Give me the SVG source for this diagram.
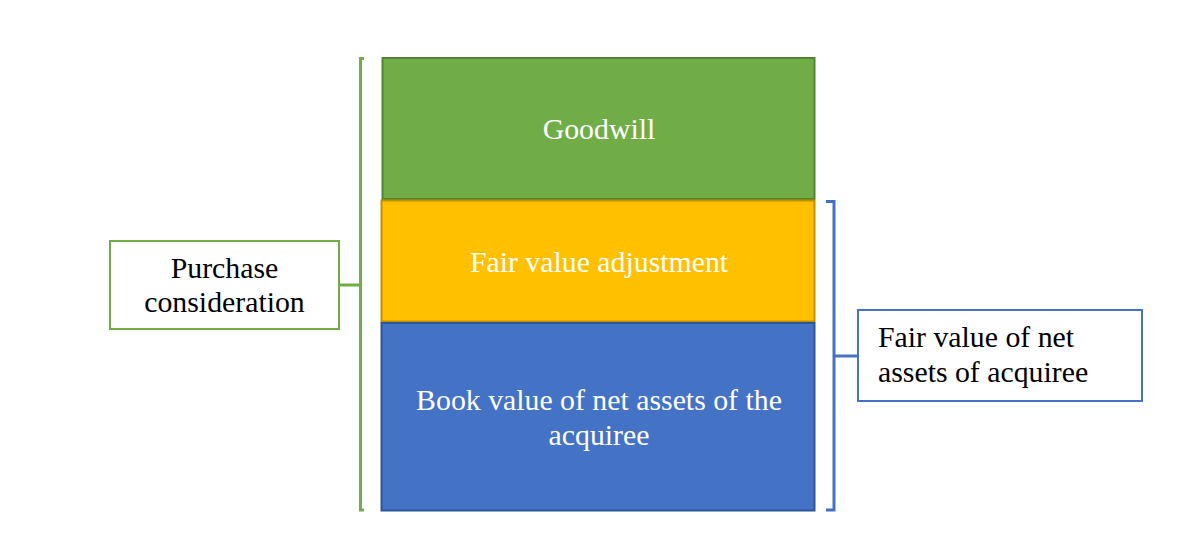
<svg xmlns="http://www.w3.org/2000/svg" width="1200" height="560" viewBox="0 0 1200 560">
<style>
.t{font-family:"Liberation Serif","Times New Roman",serif;font-size:29.8px}
.w{fill:#fff}
.k{fill:#000}
.bg{fill:none;stroke:#70AD47;stroke-width:3}
.bb{fill:none;stroke:#4472C4;stroke-width:3}
</style>
<rect width="1200" height="560" fill="#fff"/>
<g id="goodwill">
<rect x="382.5" y="58" width="432" height="141" fill="#70AD47" stroke="#548235" stroke-width="2"/>
<text class="t w" x="599" y="139" text-anchor="middle">Goodwill</text>
</g>
<g id="fair-value-adjustment">
<rect x="381.5" y="200.5" width="433" height="121" fill="#FFC000" stroke="#BF9000" stroke-width="2"/>
<text class="t w" x="599" y="272" text-anchor="middle">Fair value adjustment</text>
</g>
<g id="book-value">
<rect x="381.5" y="323" width="433" height="187.5" fill="#4472C4" stroke="#2F5597" stroke-width="2"/>
<text class="t w" x="599" y="410" text-anchor="middle">Book value of net assets of the</text>
<text class="t w" x="599" y="445" text-anchor="middle">acquiree</text>
</g>
<g id="purchase-consideration">
<rect x="110" y="241" width="229" height="88" fill="#fff" stroke="#70AD47" stroke-width="2"/>
<text class="t k" x="224.5" y="278" text-anchor="middle">Purchase</text>
<text class="t k" x="224.5" y="312" text-anchor="middle">consideration</text>
</g>
<g id="fair-value-net-assets">
<rect x="858" y="310" width="284" height="91" fill="#fff" stroke="#4472C4" stroke-width="2"/>
<text class="t k" x="878" y="347">Fair value of net</text>
<text class="t k" x="878" y="382">assets of acquiree</text>
</g>
<g id="connectors">
<path class="bg" d="M364 58.5 H360.5 V510 H364 M360.5 285 H340"/>
<path class="bb" d="M826 201.5 H834 V510 H826 M834 356 H858"/>
</g>
</svg>
